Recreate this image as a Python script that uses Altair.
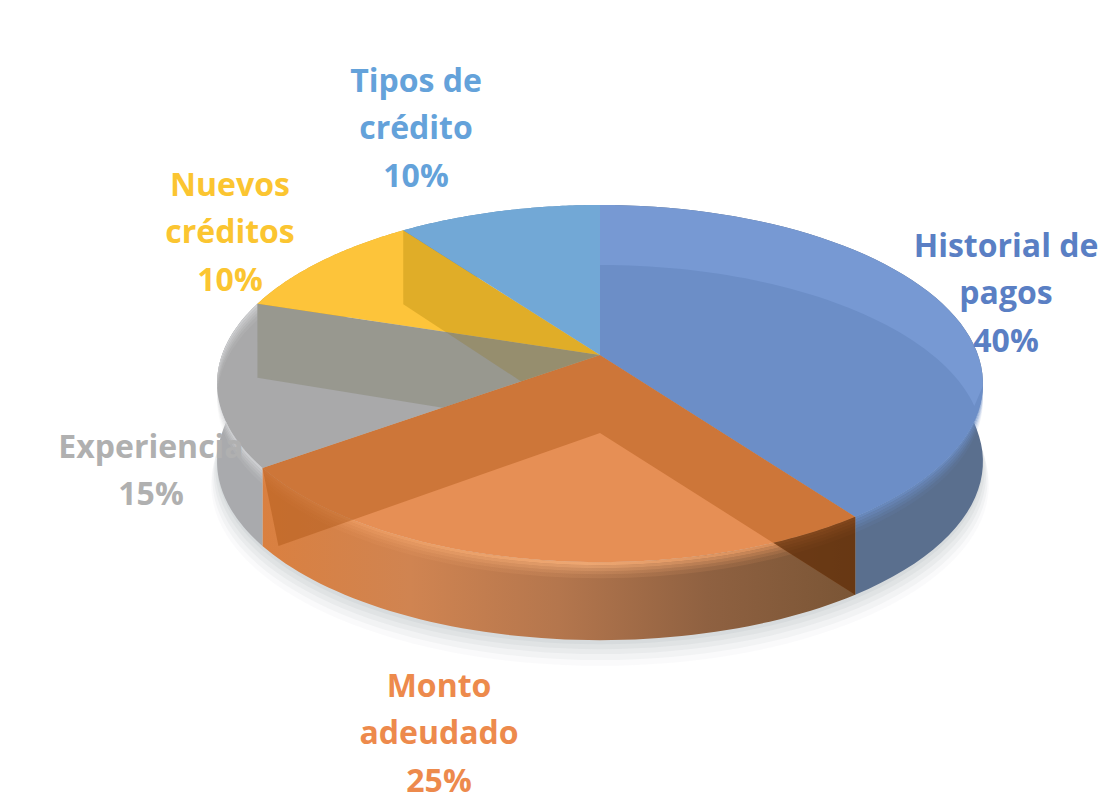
import math
import altair as alt

# ---- chart values ----
names = ["Historial de pagos", "Monto adeudado", "Experiencia", "Nuevos créditos", "Tipos de crédito"]
shares = [40, 25, 15, 10, 10]
top_colors = ["#7799d3", "#e68f55", "#a9a9aa", "#fdc43a", "#72a8d6"]
label_colors = ["#5a7fc4", "#ed8a4c", "#b0b0b0", "#fbc531", "#64a2da"]
label_lines = [["Historial de", "pagos", "40%"], ["Monto", "adeudado", "25%"],
               ["Experiencia", "15%"], ["Nuevos", "créditos", "10%"], ["Tipos de", "crédito", "10%"]]
label_centers = [(1006, 246.5), (439, 686.5), (151, 447.5), (230, 185.5), (416, 81.5)]
line_gap = 47.5

# ---- perspective disc ----
CX, CY, A, B, K = 600, 355, 378, 174, 0.16
W, H = 1100, 794
APEX = [CX, CY]
FLOOR = [CX, CY + 78]


def P(theta, t=0.0, r=1.0, sx=1.0):
    u, v = r * math.sin(theta), -r * math.cos(theta)
    w = 1 - K * v
    return [CX + sx * A * u / w, CY + B * v / w + t]


def thick(theta):
    v = -math.cos(theta)
    return 78 + 16 * min(v, 0)


def arc(a, b, t=None, r=1.0, n=60):
    out = []
    for i in range(n + 1):
        th = a + (b - a) * i / n
        out.append(P(th, (thick(th) if t is None else t), r))
    return out


def cross(p1, p2, p3, p4):
    """Where the line p1-p2 meets the line p3-p4."""
    d = (p1[0] - p2[0]) * (p3[1] - p4[1]) - (p1[1] - p2[1]) * (p3[0] - p4[0])
    a = p1[0] * p2[1] - p1[1] * p2[0]
    b = p3[0] * p4[1] - p3[1] * p4[0]
    return [(a * (p3[0] - p4[0]) - (p1[0] - p2[0]) * b) / d,
            (a * (p3[1] - p4[1]) - (p1[1] - p2[1]) * b) / d]


def shape(points, fill, opacity=1.0):
    ring = [list(p) for p in points] + [list(points[0])]
    feature = {"type": "Feature", "properties": {}, "geometry": {"type": "Polygon", "coordinates": [ring]}}
    return alt.Chart(alt.Data(values=[feature])).mark_geoshape(
        fill=fill, opacity=opacity, strokeWidth=0
    ).project(type="identity", scale=1, translate=[-8, -8])


def grad_x(stops):
    return alt.Gradient(gradient="linear", x1=0, x2=1, y1=0, y2=0,
                        stops=[alt.GradientStop(color=c, offset=o) for o, c in stops])


# slice boundaries from the shares
edges = [0.0]
for s in shares:
    edges.append(edges[-1] + s / sum(shares) * 2 * math.pi)

layers = []

# soft shadow under the disc
for dy, grow, op in [(22, 1.015, 0.08), (17, 1.012, 0.12), (12, 1.008, 0.16), (8, 1.004, 0.2), (4, 1.0, 0.25)]:
    layers.append(shape(arc(0, 2 * math.pi, t=78 + dy, r=grow, n=160), "#bcc2c8", op))

# outer rim of every slice
side_fill = {
    0: "#5a6f8e",
    1: grad_x([(0, "#da8040"), (0.25, "#d08451"), (0.5, "#b4764d"), (0.75, "#8f6141"), (1, "#7a5535")]),
    2: "#a9aaad", 3: "#d9a82a", 4: "#5f8fb8",
}
for i in range(5):
    a, b = edges[i], edges[i + 1]
    layers.append(shape(arc(a, b, t=0) + arc(a, b)[::-1], side_fill[i]))

# top faces
for i in range(5):
    a, b = edges[i], edges[i + 1]
    layers.append(shape([APEX] + arc(a, b, t=0), top_colors[i]))

# darker inner part of the large slice (far rim of the floor seen through it)
layers.append(shape([APEX] + arc(0, math.radians(87), t=60, n=50) +
                    arc(math.radians(100), edges[1], t=0, n=30), "#6c8ec7"))

# soft bevel of the rim
steps = [(0, 3, 0.8), (3, 6, 0.6), (6, 9, 0.42), (9, 12, 0.26), (12, 16, 0.12)]
for d0, d1, op in steps:
    a, b = math.radians(100), edges[1]
    layers.append(shape(arc(a, b, t=d0, n=30) + arc(a, b, t=d1, n=30)[::-1], "#6c8ec7", op))
    a, b = edges[1], edges[2]
    layers.append(shape(arc(a, b, t=d0, n=50) + arc(a, b, t=d1, n=50)[::-1],
                        grad_x([(0, "#e68f55"), (0.3, "#f2a76e"), (0.55, "#fdb47c"), (0.8, "#f0a067"), (1, "#e68f55")]), op))
    a, b = edges[2], edges[3]
    layers.append(shape(arc(a, b, t=d0, n=30) + arc(a, b, t=d1, n=30)[::-1], "#d6d7d9", op))

# inner walls, seen through the translucent slices; each stops at the orange slice
orange_left = P(edges[2], 0)
orange_right = P(edges[1], 0)
for th, t, fill, op in [(edges[4], 74, "#a07800", 0.3), (edges[3], 74, "#7a7a60", 0.36)]:
    foot = P(th, t)
    meet = cross(foot, FLOOR, APEX, orange_left)
    layers.append(shape([APEX, P(th, 0), foot, meet], fill, op))

left_foot = [P(edges[2], 0)[0] + 16, P(edges[2], 78)[1]]
right_foot = P(edges[1], 78)
layers.append(shape([APEX, orange_left, left_foot, FLOOR, right_foot, orange_right], "#a8500f", 0.4))

# the part of the right wall in front of the rim reads much darker
lo, hi = edges[1], edges[2]
for _ in range(40):
    mid = (lo + hi) / 2
    q = P(mid, 0)
    line_y = FLOOR[1] + (right_foot[1] - FLOOR[1]) * (q[0] - FLOOR[0]) / (right_foot[0] - FLOOR[0])
    if q[1] > line_y:
        hi = mid
    else:
        lo = mid
layers.append(shape(arc(edges[1], lo, t=0, n=20) + [right_foot], "#4a2206", 0.55))

# labels
rows = []
for name, lines, color, (cx, cy) in zip(names, label_lines, label_colors, label_centers):
    for j, line in enumerate(lines):
        rows.append({"name": name, "line": line, "px": cx, "py": cy + j * line_gap, "color": color})

text = alt.Chart(alt.Data(values=rows)).mark_text(
    font="Open Sans", fontWeight="bold", fontSize=32, align="center", baseline="middle"
).encode(
    x=alt.X("px:Q", scale=alt.Scale(domain=[8, 8 + W]), axis=None),
    y=alt.Y("py:Q", scale=alt.Scale(domain=[8 + H, 8]), axis=None),
    text="line:N",
    color=alt.Color("color:N", scale=None),
)

chart = alt.layer(*layers, text).properties(
    width=W, height=H, padding=0, background="white",
    autosize=alt.AutoSizeParams(type="none")
).configure_view(stroke=None)

chart.save("out.html", embed_options={"renderer": "svg", "actions": False})
